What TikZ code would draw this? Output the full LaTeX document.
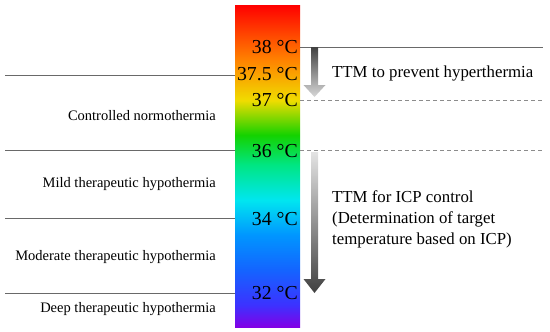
\documentclass[tikz,border=0pt]{standalone}
\usepackage{fontspec}
\setmainfont{Liberation Serif}
\definecolor{cviolet}{RGB}{130,0,230}
\definecolor{cblueA}{RGB}{60,50,255}
\definecolor{cblueB}{RGB}{20,100,255}
\definecolor{cblueC}{RGB}{0,150,255}
\definecolor{ccyan}{RGB}{0,230,240}
\definecolor{cmint}{RGB}{0,230,130}
\definecolor{cgreen}{RGB}{20,210,0}
\definecolor{cyellow}{RGB}{240,220,0}
\definecolor{corange}{RGB}{255,130,0}
\definecolor{cred}{RGB}{255,0,0}
\definecolor{linegray}{RGB}{105,105,105}
\definecolor{dashgray}{RGB}{140,140,140}
\definecolor{adark}{RGB}{65,65,65}
\definecolor{alight}{RGB}{215,215,215}
\pgfdeclareverticalshading{thermo}{100bp}{color(0bp)=(cviolet); color(25bp)=(cviolet); color(28.4bp)=(cblueA); color(33.85bp)=(cblueB); color(39.3bp)=(cblueC); color(44.7bp)=(ccyan); color(50.2bp)=(cmint); color(54.8bp)=(cgreen); color(60.2bp)=(cyellow); color(66.5bp)=(corange); color(75bp)=(cred); color(100bp)=(cred)}
\begin{document}
\begin{tikzpicture}[x=1pt,y=-1pt,
  templabel/.style={anchor=east,inner sep=0pt,font=\fontsize{19.8}{22}\selectfont,text height=13pt,text depth=0pt},
  leftlabel/.style={anchor=east,inner sep=0pt,font=\fontsize{14.5}{16}\selectfont},
  rightlabel/.style={anchor=west,inner sep=0pt,align=left,font=\fontsize{16.8}{21}\selectfont},
  solidline/.style={draw=linegray,line width=0.9pt},
  dashline/.style={draw=dashgray,line width=0.9pt,dash pattern=on 4pt off 3pt}]
\useasboundingbox (0,0) rectangle (550,332);
% thermometer bar
\shade[shading=thermo] (235,5) rectangle (300,327);
% coordinates
\coordinate (L375a) at (5,75);   \coordinate (L375b) at (235,75);
\coordinate (L36a) at (5,150);   \coordinate (L36b) at (235,150);
\coordinate (L34a) at (5,218);   \coordinate (L34b) at (235,218);
\coordinate (L32a) at (5,293);   \coordinate (L32b) at (235,293);
\coordinate (R38a) at (300,47);  \coordinate (R38b) at (543,47);
\coordinate (R37a) at (300,100); \coordinate (R37b) at (543,100);
\coordinate (R36a) at (300,150); \coordinate (R36b) at (543,150);
% lines
\draw[solidline] (L375a) -- (L375b);
\draw[solidline] (L36a) -- (L36b);
\draw[solidline] (L34a) -- (L34b);
\draw[solidline] (L32a) -- (L32b);
\draw[solidline] (R38a) -- (R38b);
\draw[dashline] (R37a) -- (R37b);
\draw[dashline] (R36a) -- (R36b);
% temperature labels
\node[templabel] (t38) at (298,47) {38 °C};
\node[templabel] (t375) at (298,74) {37.5 °C};
\node[templabel] (t37) at (298,99.5) {37 °C};
\node[templabel] (t36) at (298,151) {36 °C};
\node[templabel] (t34) at (298,219) {34 °C};
\node[templabel] (t32) at (298,293) {32 °C};
% left labels
\node[leftlabel] (cn) at (216,116) {Controlled normothermia};
\node[leftlabel] (mild) at (216,184) {Mild therapeutic hypothermia};
\node[leftlabel] (mod) at (216,257) {Moderate therapeutic hypothermia};
\node[leftlabel] (deep) at (216,309) {Deep therapeutic hypothermia};
% arrows
\shade[top color=adark,bottom color=alight]
  (311,47) -- (318,47) -- (318,85) -- (325.5,85) -- (314.5,97) -- (303.5,85) -- (311,85) -- cycle;
\shade[top color=alight!70!white,bottom color=adark]
  (311,152) -- (318,152) -- (318,279) -- (325.5,279) -- (314.5,293) -- (303.5,279) -- (311,279) -- cycle;
% right labels
\node[rightlabel] (hyper) at (332,73.5) {TTM to prevent hyperthermia};
\node[rightlabel] (icp) at (332,219.5) {TTM for ICP control\\(Determination of target\\temperature based on ICP)};
\end{tikzpicture}
\end{document}
